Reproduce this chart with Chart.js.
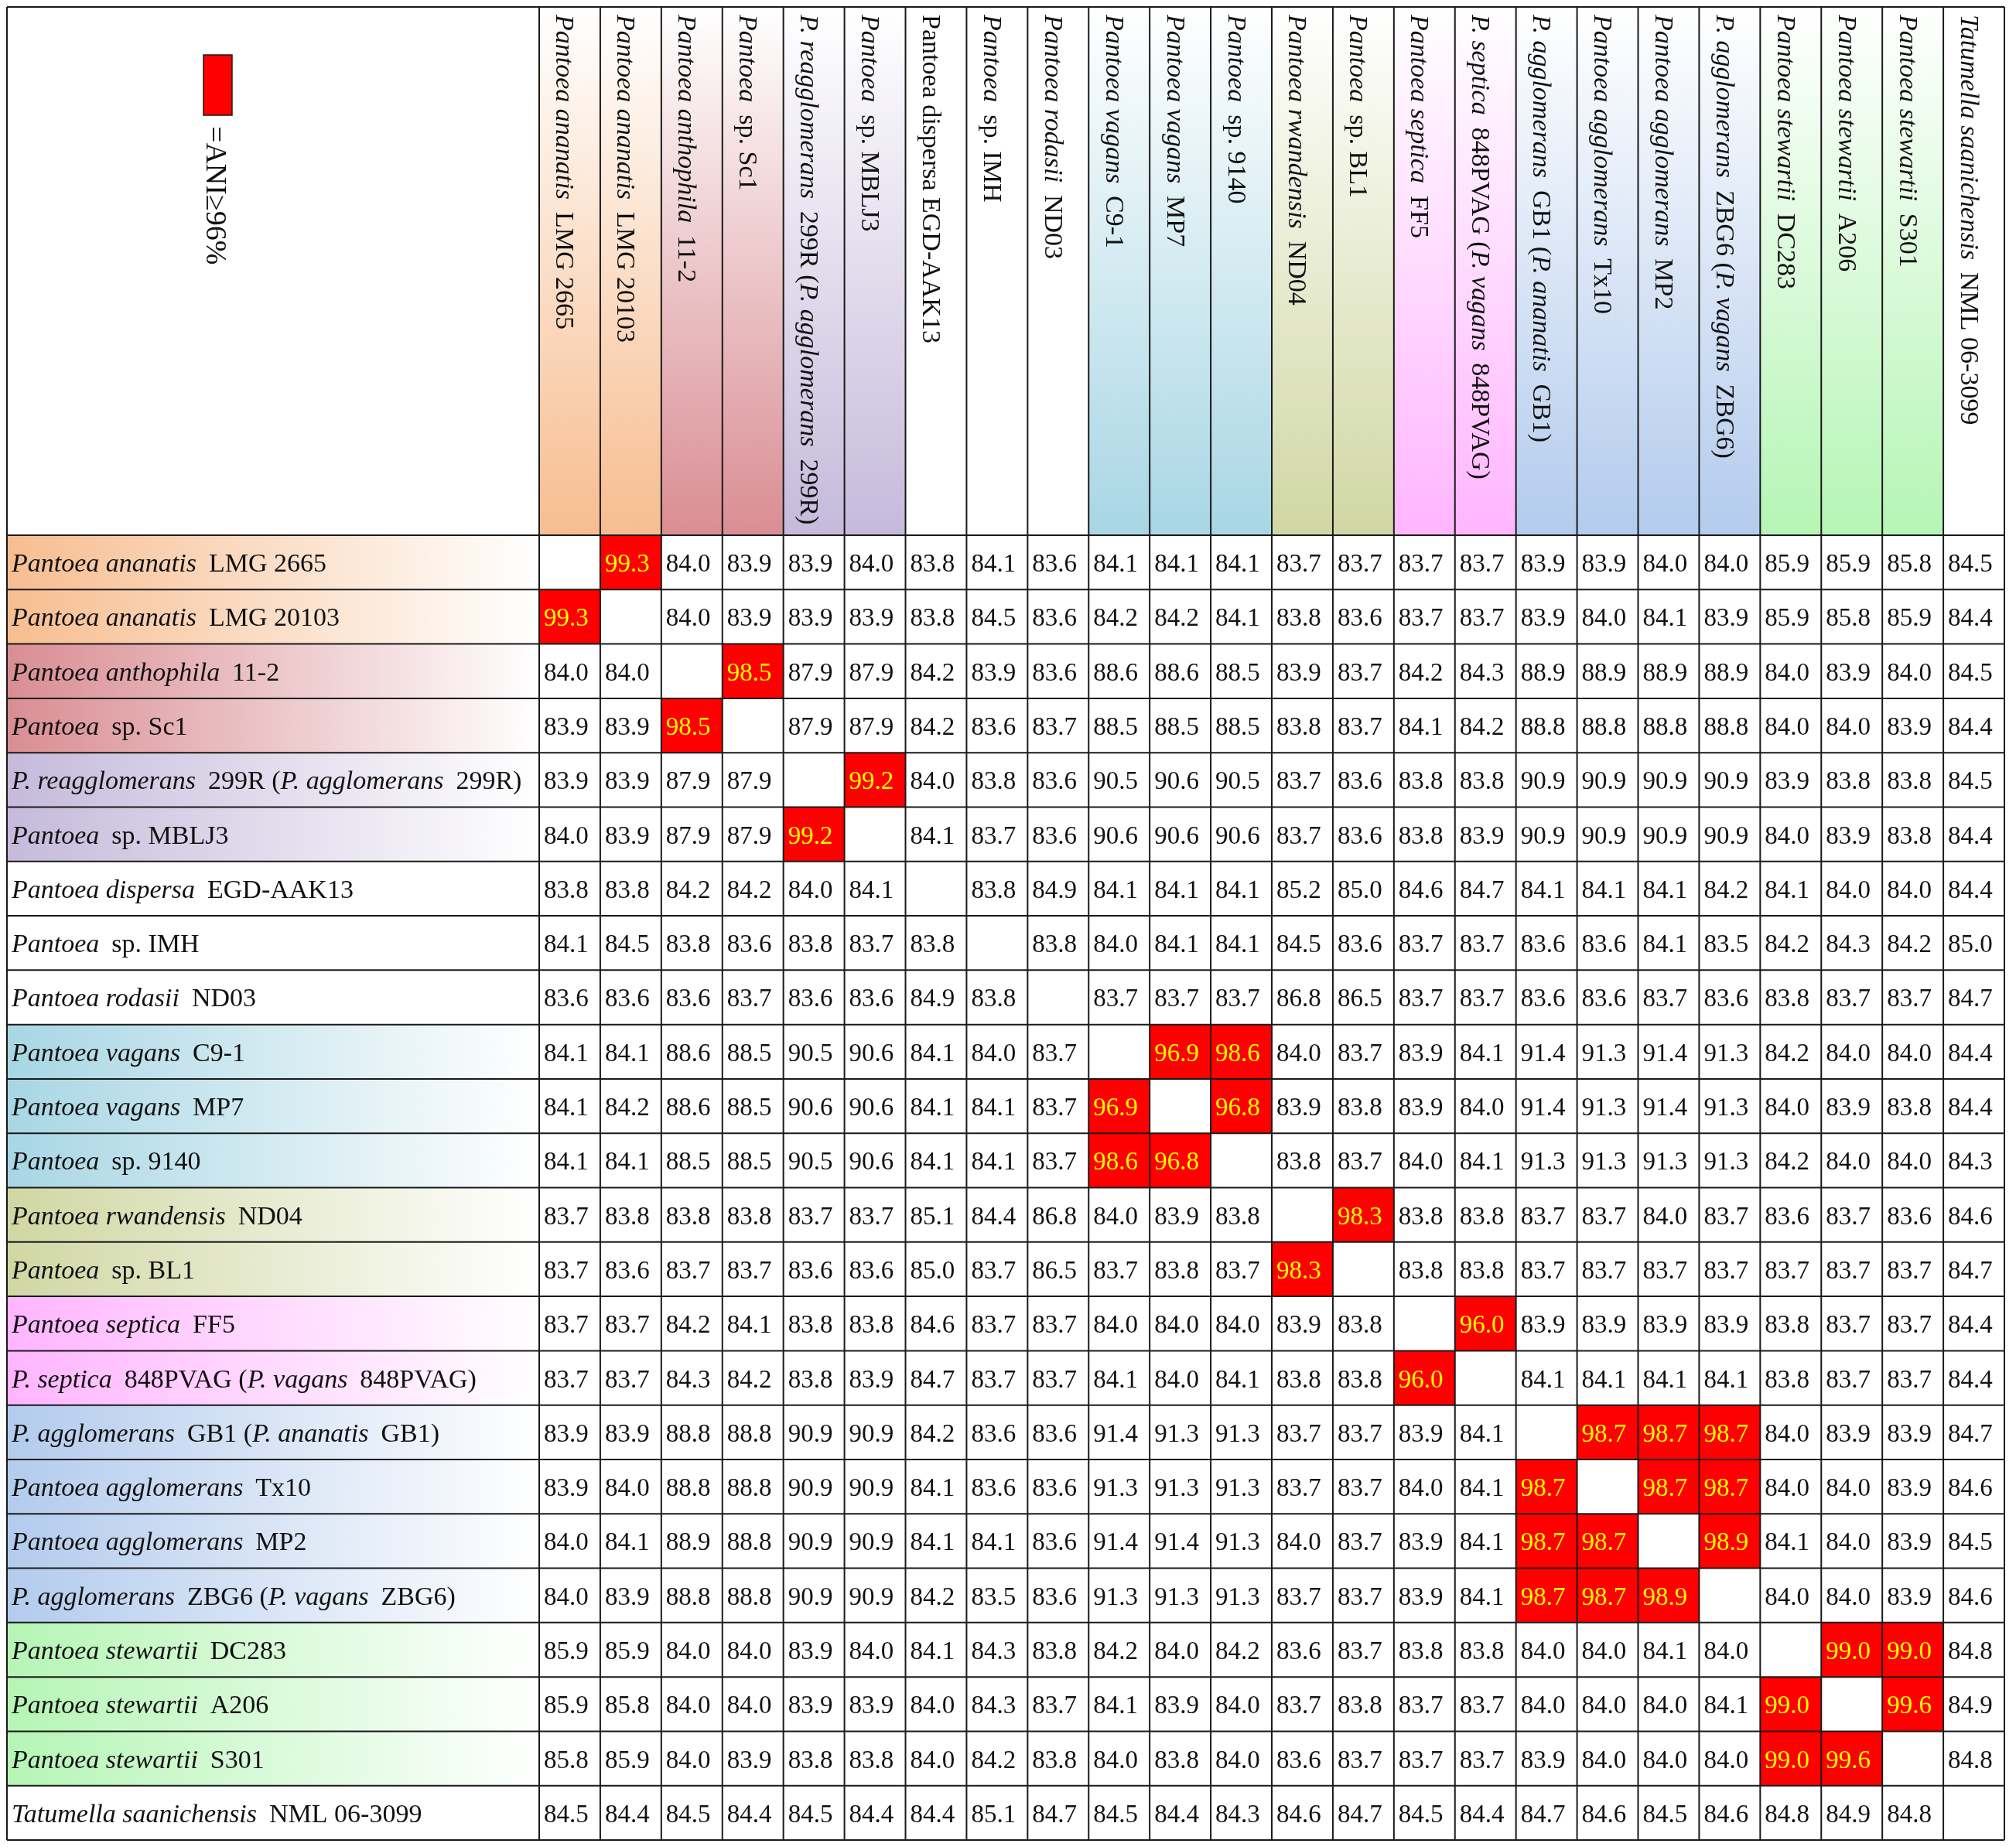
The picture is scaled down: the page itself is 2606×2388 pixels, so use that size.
<!DOCTYPE html>
<html>
<head>
<meta charset="utf-8">
<title>ANI matrix</title>
<script src="https://cdn.jsdelivr.net/npm/chart.js@4.4.1/dist/chart.umd.min.js"></script>
<style>
  html, body { margin: 0; padding: 0; background: #fff; }
  #aniChart { display: block; }
</style>
</head>
<body>
<canvas id="aniChart" width="2606" height="2388" style="width:2606px;height:2388px"></canvas>
<script>
// strain names, the part between * * is set in italics
const strains = [
  "*Pantoea ananatis* LMG 2665",
  "*Pantoea ananatis* LMG 20103",
  "*Pantoea anthophila* 11-2",
  "*Pantoea* sp. Sc1",
  "*P. reagglomerans* 299R (*P. agglomerans* 299R)",
  "*Pantoea* sp. MBLJ3",
  "*Pantoea dispersa* EGD-AAK13",
  "*Pantoea* sp. IMH",
  "*Pantoea rodasii* ND03",
  "*Pantoea vagans* C9-1",
  "*Pantoea vagans* MP7",
  "*Pantoea* sp. 9140",
  "*Pantoea rwandensis* ND04",
  "*Pantoea* sp. BL1",
  "*Pantoea septica* FF5",
  "*P. septica* 848PVAG (*P. vagans* 848PVAG)",
  "*P. agglomerans* GB1 (*P. ananatis* GB1)",
  "*Pantoea agglomerans* Tx10",
  "*Pantoea agglomerans* MP2",
  "*P. agglomerans* ZBG6 (*P. vagans* ZBG6)",
  "*Pantoea stewartii* DC283",
  "*Pantoea stewartii* A206",
  "*Pantoea stewartii* S301",
  "*Tatumella saanichensis* NML 06-3099"
];
// column headers: same names, dispersa is upright in the header
const headers = strains.slice();
headers[6] = "Pantoea dispersa EGD-AAK13";

// colour group of each strain (null = no shading)
const groups = [
  "ananatis", "ananatis", "anthophila", "anthophila", "reagglomerans", "reagglomerans",
  null, null, null, "vagans", "vagans", "vagans", "rwandensis", "rwandensis",
  "septica", "septica", "agglomerans", "agglomerans", "agglomerans", "agglomerans",
  "stewartii", "stewartii", "stewartii", null
];
const groupColors = {
  ananatis: "#f7bd90",
  anthophila: "#d98d93",
  reagglomerans: "#c5badb",
  vagans: "#a8d6e4",
  rwandensis: "#d0d7a3",
  septica: "#ffb5ff",
  agglomerans: "#b3cbed",
  stewartii: "#b5f5b5"
};

// ANI values (%), one array per row, null on the diagonal
const row01 = [null, 99.3, 84.0, 83.9, 83.9, 84.0, 83.8, 84.1, 83.6, 84.1, 84.1, 84.1, 83.7, 83.7, 83.7, 83.7, 83.9, 83.9, 84.0, 84.0, 85.9, 85.9, 85.8, 84.5];
const row02 = [99.3, null, 84.0, 83.9, 83.9, 83.9, 83.8, 84.5, 83.6, 84.2, 84.2, 84.1, 83.8, 83.6, 83.7, 83.7, 83.9, 84.0, 84.1, 83.9, 85.9, 85.8, 85.9, 84.4];
const row03 = [84.0, 84.0, null, 98.5, 87.9, 87.9, 84.2, 83.9, 83.6, 88.6, 88.6, 88.5, 83.9, 83.7, 84.2, 84.3, 88.9, 88.9, 88.9, 88.9, 84.0, 83.9, 84.0, 84.5];
const row04 = [83.9, 83.9, 98.5, null, 87.9, 87.9, 84.2, 83.6, 83.7, 88.5, 88.5, 88.5, 83.8, 83.7, 84.1, 84.2, 88.8, 88.8, 88.8, 88.8, 84.0, 84.0, 83.9, 84.4];
const row05 = [83.9, 83.9, 87.9, 87.9, null, 99.2, 84.0, 83.8, 83.6, 90.5, 90.6, 90.5, 83.7, 83.6, 83.8, 83.8, 90.9, 90.9, 90.9, 90.9, 83.9, 83.8, 83.8, 84.5];
const row06 = [84.0, 83.9, 87.9, 87.9, 99.2, null, 84.1, 83.7, 83.6, 90.6, 90.6, 90.6, 83.7, 83.6, 83.8, 83.9, 90.9, 90.9, 90.9, 90.9, 84.0, 83.9, 83.8, 84.4];
const row07 = [83.8, 83.8, 84.2, 84.2, 84.0, 84.1, null, 83.8, 84.9, 84.1, 84.1, 84.1, 85.2, 85.0, 84.6, 84.7, 84.1, 84.1, 84.1, 84.2, 84.1, 84.0, 84.0, 84.4];
const row08 = [84.1, 84.5, 83.8, 83.6, 83.8, 83.7, 83.8, null, 83.8, 84.0, 84.1, 84.1, 84.5, 83.6, 83.7, 83.7, 83.6, 83.6, 84.1, 83.5, 84.2, 84.3, 84.2, 85.0];
const row09 = [83.6, 83.6, 83.6, 83.7, 83.6, 83.6, 84.9, 83.8, null, 83.7, 83.7, 83.7, 86.8, 86.5, 83.7, 83.7, 83.6, 83.6, 83.7, 83.6, 83.8, 83.7, 83.7, 84.7];
const row10 = [84.1, 84.1, 88.6, 88.5, 90.5, 90.6, 84.1, 84.0, 83.7, null, 96.9, 98.6, 84.0, 83.7, 83.9, 84.1, 91.4, 91.3, 91.4, 91.3, 84.2, 84.0, 84.0, 84.4];
const row11 = [84.1, 84.2, 88.6, 88.5, 90.6, 90.6, 84.1, 84.1, 83.7, 96.9, null, 96.8, 83.9, 83.8, 83.9, 84.0, 91.4, 91.3, 91.4, 91.3, 84.0, 83.9, 83.8, 84.4];
const row12 = [84.1, 84.1, 88.5, 88.5, 90.5, 90.6, 84.1, 84.1, 83.7, 98.6, 96.8, null, 83.8, 83.7, 84.0, 84.1, 91.3, 91.3, 91.3, 91.3, 84.2, 84.0, 84.0, 84.3];
const row13 = [83.7, 83.8, 83.8, 83.8, 83.7, 83.7, 85.1, 84.4, 86.8, 84.0, 83.9, 83.8, null, 98.3, 83.8, 83.8, 83.7, 83.7, 84.0, 83.7, 83.6, 83.7, 83.6, 84.6];
const row14 = [83.7, 83.6, 83.7, 83.7, 83.6, 83.6, 85.0, 83.7, 86.5, 83.7, 83.8, 83.7, 98.3, null, 83.8, 83.8, 83.7, 83.7, 83.7, 83.7, 83.7, 83.7, 83.7, 84.7];
const row15 = [83.7, 83.7, 84.2, 84.1, 83.8, 83.8, 84.6, 83.7, 83.7, 84.0, 84.0, 84.0, 83.9, 83.8, null, 96.0, 83.9, 83.9, 83.9, 83.9, 83.8, 83.7, 83.7, 84.4];
const row16 = [83.7, 83.7, 84.3, 84.2, 83.8, 83.9, 84.7, 83.7, 83.7, 84.1, 84.0, 84.1, 83.8, 83.8, 96.0, null, 84.1, 84.1, 84.1, 84.1, 83.8, 83.7, 83.7, 84.4];
const row17 = [83.9, 83.9, 88.8, 88.8, 90.9, 90.9, 84.2, 83.6, 83.6, 91.4, 91.3, 91.3, 83.7, 83.7, 83.9, 84.1, null, 98.7, 98.7, 98.7, 84.0, 83.9, 83.9, 84.7];
const row18 = [83.9, 84.0, 88.8, 88.8, 90.9, 90.9, 84.1, 83.6, 83.6, 91.3, 91.3, 91.3, 83.7, 83.7, 84.0, 84.1, 98.7, null, 98.7, 98.7, 84.0, 84.0, 83.9, 84.6];
const row19 = [84.0, 84.1, 88.9, 88.8, 90.9, 90.9, 84.1, 84.1, 83.6, 91.4, 91.4, 91.3, 84.0, 83.7, 83.9, 84.1, 98.7, 98.7, null, 98.9, 84.1, 84.0, 83.9, 84.5];
const row20 = [84.0, 83.9, 88.8, 88.8, 90.9, 90.9, 84.2, 83.5, 83.6, 91.3, 91.3, 91.3, 83.7, 83.7, 83.9, 84.1, 98.7, 98.7, 98.9, null, 84.0, 84.0, 83.9, 84.6];
const row21 = [85.9, 85.9, 84.0, 84.0, 83.9, 84.0, 84.1, 84.3, 83.8, 84.2, 84.0, 84.2, 83.6, 83.7, 83.8, 83.8, 84.0, 84.0, 84.1, 84.0, null, 99.0, 99.0, 84.8];
const row22 = [85.9, 85.8, 84.0, 84.0, 83.9, 83.9, 84.0, 84.3, 83.7, 84.1, 83.9, 84.0, 83.7, 83.8, 83.7, 83.7, 84.0, 84.0, 84.0, 84.1, 99.0, null, 99.6, 84.9];
const row23 = [85.8, 85.9, 84.0, 83.9, 83.8, 83.8, 84.0, 84.2, 83.8, 84.0, 83.8, 84.0, 83.6, 83.7, 83.7, 83.7, 83.9, 84.0, 84.0, 84.0, 99.0, 99.6, null, 84.8];
const row24 = [84.5, 84.4, 84.5, 84.4, 84.5, 84.4, 84.4, 85.1, 84.7, 84.5, 84.4, 84.3, 84.6, 84.7, 84.5, 84.4, 84.7, 84.6, 84.5, 84.6, 84.8, 84.9, 84.8, null];

const ani = [row01, row02, row03, row04, row05, row06, row07, row08, row09, row10, row11, row12,
             row13, row14, row15, row16, row17, row18, row19, row20, row21, row22, row23, row24];
const threshold = 96;
const legendText = "=ANI\u226596%";

const n = strains.length;
const FONT = '"Liberation Serif", "Times New Roman", serif';
const frameLeft = 9, frameTop = 9;

// one point per cell, the plugin draws the cells from the scales
const cells = [];
ani.forEach((row, i) => row.forEach((v, j) => {
  cells.push({ x: j + 0.5, y: i + 0.5, v: v });
}));

function parts(label) {
  return label.split('*')
    .map((t, k) => ({ text: t, italic: k % 2 === 1 }))
    .filter(p => p.text.length);
}

function drawRich(ctx, label, x0, y0, size) {
  let cx = x0;
  const ps = parts(label);
  ps.forEach((p, k) => {
    ctx.font = (p.italic ? 'italic ' : '') + size + 'px ' + FONT;
    ctx.fillText(p.text, cx, y0);
    cx += ctx.measureText(p.text).width;
    if (p.italic && k < ps.length - 1) cx += size * 0.22;
  });
}

const tablePlugin = {
  id: 'aniTable',
  afterDraw(chart) {
    const ctx = chart.ctx;
    const xs = chart.scales.x, ys = chart.scales.y;
    const colX = j => xs.getPixelForValue(j);
    const rowY = i => ys.getPixelForValue(i);
    const labelRight = colX(0), headerBottom = rowY(0);
    const right = colX(n), bottom = rowY(n);

    ctx.save();

    // shaded row labels and column headers
    groups.forEach((g, i) => {
      if (!g) return;
      const c = groupColors[g];
      let grad = ctx.createLinearGradient(frameLeft, 0, labelRight, 0);
      grad.addColorStop(0, c);
      grad.addColorStop(1, '#ffffff');
      ctx.fillStyle = grad;
      ctx.fillRect(frameLeft, rowY(i), labelRight - frameLeft, rowY(i + 1) - rowY(i));

      grad = ctx.createLinearGradient(0, frameTop, 0, headerBottom);
      grad.addColorStop(0, '#ffffff');
      grad.addColorStop(1, c);
      ctx.fillStyle = grad;
      ctx.fillRect(colX(i), frameTop, colX(i + 1) - colX(i), headerBottom - frameTop);
    });

    // red cells
    chart.data.datasets[0].data.forEach(d => {
      if (d.v !== null && d.v >= threshold) {
        const j = d.x - 0.5, i = d.y - 0.5;
        ctx.fillStyle = '#ff0000';
        ctx.fillRect(colX(j), rowY(i), colX(j + 1) - colX(j), rowY(i + 1) - rowY(i));
      }
    });

    // grid
    ctx.strokeStyle = '#1a1a1a';
    ctx.lineWidth = 2;
    ctx.beginPath();
    [frameLeft].concat([...Array(n + 1).keys()].map(colX)).forEach(x => {
      ctx.moveTo(x, frameTop);
      ctx.lineTo(x, bottom);
    });
    [frameTop].concat([...Array(n + 1).keys()].map(rowY)).forEach(y => {
      ctx.moveTo(frameLeft, y);
      ctx.lineTo(right, y);
    });
    ctx.stroke();

    // values
    ctx.font = '33px ' + FONT;
    ctx.textAlign = 'left';
    ctx.textBaseline = 'alphabetic';
    chart.data.datasets[0].data.forEach(d => {
      if (d.v === null) return;
      const j = d.x - 0.5;
      ctx.fillStyle = d.v >= threshold ? '#ffff00' : '#111111';
      ctx.fillText(d.v.toFixed(1), colX(j) + 6, ys.getPixelForValue(d.y) + 12);
    });

    // row labels
    ctx.fillStyle = '#111111';
    strains.forEach((s, i) => {
      drawRich(ctx, s, frameLeft + 6, ys.getPixelForValue(i + 0.5) + 12, 34);
    });

    // column headers, rotated
    headers.forEach((s, j) => {
      ctx.save();
      ctx.translate(xs.getPixelForValue(j + 0.5) - 17, frameTop + 10);
      ctx.rotate(Math.PI / 2);
      drawRich(ctx, s, 0, 0, 34);
      ctx.restore();
    });

    // legend: red box and rotated note
    ctx.fillStyle = '#ff0000';
    ctx.fillRect(263, 71, 37, 78);
    ctx.lineWidth = 1.5;
    ctx.strokeRect(263, 71, 37, 78);
    ctx.save();
    ctx.translate(267, 163);
    ctx.rotate(Math.PI / 2);
    ctx.fillStyle = '#111111';
    ctx.font = '38px ' + FONT;
    ctx.fillText(legendText, 0, 0);
    ctx.restore();

    ctx.restore();
  }
};

const aniChart = new Chart(document.getElementById('aniChart'), {
  type: 'scatter',
  data: {
    datasets: [{
      data: cells,
      pointRadius: 0,
      pointHoverRadius: 0
    }]
  },
  options: {
    responsive: false,
    animation: false,
    devicePixelRatio: 1,
    layout: { padding: { left: 697, right: 15, top: 692, bottom: 9 } },
    scales: {
      x: { type: 'linear', min: 0, max: n, display: false },
      y: { type: 'linear', min: 0, max: n, reverse: true, display: false }
    },
    plugins: {
      legend: { display: false },
      tooltip: { enabled: false }
    },
    events: []
  },
  plugins: [tablePlugin]
});
</script>
</body>
</html>
